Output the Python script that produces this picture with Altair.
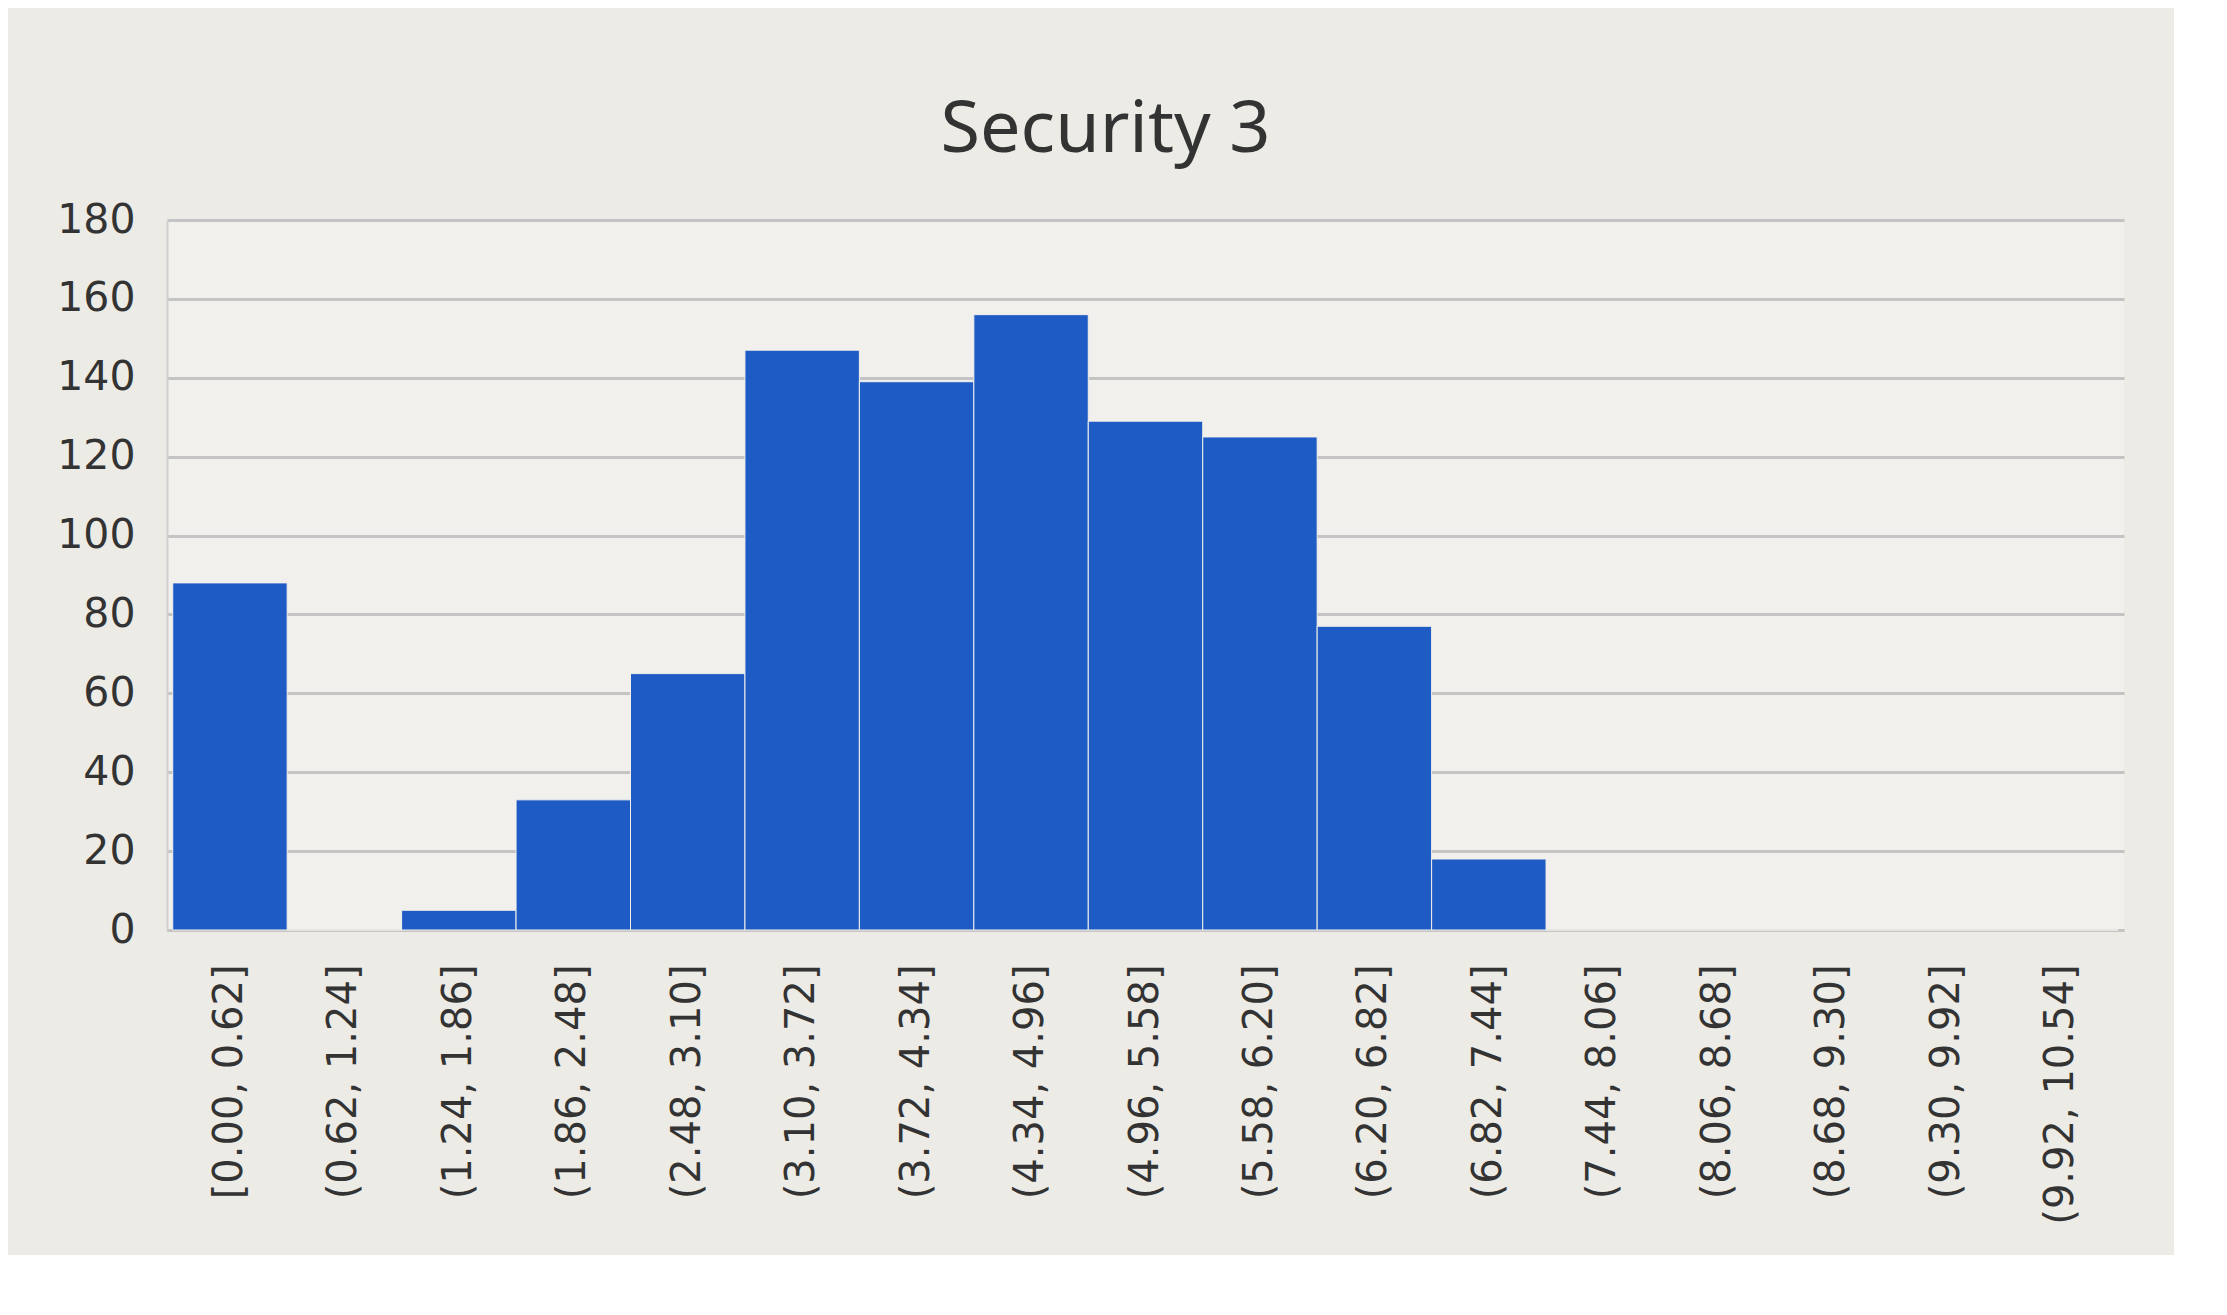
import altair as alt
import pandas as pd

bins = ["[0.00, 0.62]", "(0.62, 1.24]", "(1.24, 1.86]", "(1.86, 2.48]", "(2.48, 3.10]",
        "(3.10, 3.72]", "(3.72, 4.34]", "(4.34, 4.96]", "(4.96, 5.58]", "(5.58, 6.20]",
        "(6.20, 6.82]", "(6.82, 7.44]", "(7.44, 8.06]", "(8.06, 8.68]", "(8.68, 9.30]",
        "(9.30, 9.92]", "(9.92, 10.54]"]
counts = [88, 0, 5, 33, 65, 147, 139, 156, 129, 125, 77, 18, 0, 0, 0, 0, 0]
y_ticks = [0, 20, 40, 60, 80, 100, 120, 140, 160, 180]

df = pd.DataFrame({"bin": bins, "count": counts})

TITLE_FONT = "Noto Sans"
LABEL_FONT = "DejaVu Sans"

chart = alt.Chart(df).mark_bar(color="#1f5bc4", stroke="#f1f0ec", strokeWidth=1).encode(
    x=alt.X("bin:N", sort=bins, title=None,
            scale=alt.Scale(paddingInner=0.0, paddingOuter=0.05),
            axis=alt.Axis(labelAngle=-90, labelFontSize=40, labelColor="#333333",
                          labelFont=LABEL_FONT, ticks=False, domain=True, domainColor="#c4c4c4",
                          domainWidth=3, labelPadding=34, labelLimit=400)),
    y=alt.Y("count:Q", title=None,
            scale=alt.Scale(domain=[0, 180], nice=False),
            axis=alt.Axis(values=y_ticks, labelFontSize=41, labelColor="#333333",
                          labelFont=LABEL_FONT, ticks=False, domain=True, domainColor="#cfcfcf",
                          domainWidth=2, grid=True, gridColor="#c4c4c4", gridWidth=3,
                          labelPadding=32)),
).properties(
    width=1957,
    height=710,
    title=alt.TitleParams("Security 3", fontSize=72, font=TITLE_FONT, color="#333333",
                          fontWeight="normal", offset=32, dx=-40),
    padding={"left": 48, "top": 86, "right": 50, "bottom": 30},
    background="#ecebe6",
).configure_view(stroke=None, fill="#f1f0ec")

chart.save("out.html", embed_options={"renderer": "svg", "actions": False})
